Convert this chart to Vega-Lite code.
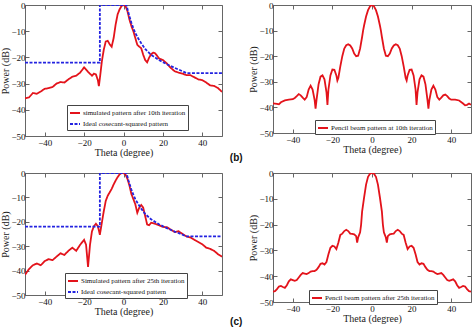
{
  "$schema": "https://vega.github.io/schema/vega-lite/v6.json",
  "padding": {"left": 0, "top": 0, "right": 2, "bottom": 0},
  "background": "white",
  "config": {
    "font": "Liberation Serif",
    "view": {"stroke": "#666", "strokeWidth": 1},
    "axis": {"grid": false, "domain": false, "ticks": true, "tickSize": -4, "tickColor": "#666", "labelPadding": 6, "labelFontSize": 9, "labelColor": "#111", "labelFont": "Liberation Serif", "titleFont": "Liberation Serif", "titleFontSize": 10, "titleFontWeight": "normal", "titleColor": "#222", "titlePadding": 0, "labelFlush": false},
    "axisY": {"labelPadding": 4},
    "legend": {"labelFont": "Liberation Serif", "labelFontSize": 7, "labelColor": "#111", "symbolType": "stroke", "symbolSize": 100, "symbolStrokeWidth": 2, "rowPadding": 1, "padding": 2, "fillColor": "white", "strokeColor": "#444", "labelOffset": 2, "labelLimit": 300}
  },
  "datasets": {
    "p1": [
      {"x": -50, "y": -35.6, "s": "simulated pattern after 10th iteration"},
      {"x": -48, "y": -35.3, "s": "simulated pattern after 10th iteration"},
      {"x": -46, "y": -33.6, "s": "simulated pattern after 10th iteration"},
      {"x": -44, "y": -33.9, "s": "simulated pattern after 10th iteration"},
      {"x": -42, "y": -33, "s": "simulated pattern after 10th iteration"},
      {"x": -40, "y": -32, "s": "simulated pattern after 10th iteration"},
      {"x": -38, "y": -31.7, "s": "simulated pattern after 10th iteration"},
      {"x": -36, "y": -31.3, "s": "simulated pattern after 10th iteration"},
      {"x": -34, "y": -30, "s": "simulated pattern after 10th iteration"},
      {"x": -32, "y": -29.4, "s": "simulated pattern after 10th iteration"},
      {"x": -30, "y": -29.6, "s": "simulated pattern after 10th iteration"},
      {"x": -28, "y": -28.4, "s": "simulated pattern after 10th iteration"},
      {"x": -26, "y": -27.4, "s": "simulated pattern after 10th iteration"},
      {"x": -24, "y": -27, "s": "simulated pattern after 10th iteration"},
      {"x": -22, "y": -25.8, "s": "simulated pattern after 10th iteration"},
      {"x": -20, "y": -23.8, "s": "simulated pattern after 10th iteration"},
      {"x": -18, "y": -25.5, "s": "simulated pattern after 10th iteration"},
      {"x": -16, "y": -27, "s": "simulated pattern after 10th iteration"},
      {"x": -15, "y": -26.2, "s": "simulated pattern after 10th iteration"},
      {"x": -14, "y": -26.5, "s": "simulated pattern after 10th iteration"},
      {"x": -13, "y": -28.7, "s": "simulated pattern after 10th iteration"},
      {"x": -12.5, "y": -31, "s": "simulated pattern after 10th iteration"},
      {"x": -12, "y": -28, "s": "simulated pattern after 10th iteration"},
      {"x": -11, "y": -21.6, "s": "simulated pattern after 10th iteration"},
      {"x": -10, "y": -17, "s": "simulated pattern after 10th iteration"},
      {"x": -9, "y": -13.9, "s": "simulated pattern after 10th iteration"},
      {"x": -8, "y": -13.7, "s": "simulated pattern after 10th iteration"},
      {"x": -7, "y": -15, "s": "simulated pattern after 10th iteration"},
      {"x": -6, "y": -15.9, "s": "simulated pattern after 10th iteration"},
      {"x": -5, "y": -12.6, "s": "simulated pattern after 10th iteration"},
      {"x": -4, "y": -7.5, "s": "simulated pattern after 10th iteration"},
      {"x": -3, "y": -3.6, "s": "simulated pattern after 10th iteration"},
      {"x": -2, "y": -1.7, "s": "simulated pattern after 10th iteration"},
      {"x": -1, "y": -0.4, "s": "simulated pattern after 10th iteration"},
      {"x": 0, "y": 0, "s": "simulated pattern after 10th iteration"},
      {"x": 1, "y": -0.4, "s": "simulated pattern after 10th iteration"},
      {"x": 2, "y": -2.3, "s": "simulated pattern after 10th iteration"},
      {"x": 3, "y": -5.5, "s": "simulated pattern after 10th iteration"},
      {"x": 4, "y": -8, "s": "simulated pattern after 10th iteration"},
      {"x": 5, "y": -10, "s": "simulated pattern after 10th iteration"},
      {"x": 6, "y": -12.6, "s": "simulated pattern after 10th iteration"},
      {"x": 7, "y": -15.2, "s": "simulated pattern after 10th iteration"},
      {"x": 8, "y": -15.9, "s": "simulated pattern after 10th iteration"},
      {"x": 9, "y": -16.5, "s": "simulated pattern after 10th iteration"},
      {"x": 10, "y": -19, "s": "simulated pattern after 10th iteration"},
      {"x": 11, "y": -21, "s": "simulated pattern after 10th iteration"},
      {"x": 12, "y": -21.9, "s": "simulated pattern after 10th iteration"},
      {"x": 13, "y": -20.1, "s": "simulated pattern after 10th iteration"},
      {"x": 14, "y": -18.8, "s": "simulated pattern after 10th iteration"},
      {"x": 15, "y": -18.2, "s": "simulated pattern after 10th iteration"},
      {"x": 16, "y": -18.4, "s": "simulated pattern after 10th iteration"},
      {"x": 17, "y": -19.3, "s": "simulated pattern after 10th iteration"},
      {"x": 18, "y": -20.4, "s": "simulated pattern after 10th iteration"},
      {"x": 20, "y": -21, "s": "simulated pattern after 10th iteration"},
      {"x": 22, "y": -22.3, "s": "simulated pattern after 10th iteration"},
      {"x": 24, "y": -24, "s": "simulated pattern after 10th iteration"},
      {"x": 26, "y": -25.3, "s": "simulated pattern after 10th iteration"},
      {"x": 28, "y": -25.8, "s": "simulated pattern after 10th iteration"},
      {"x": 30, "y": -26.2, "s": "simulated pattern after 10th iteration"},
      {"x": 32, "y": -26.8, "s": "simulated pattern after 10th iteration"},
      {"x": 34, "y": -26.8, "s": "simulated pattern after 10th iteration"},
      {"x": 36, "y": -27.6, "s": "simulated pattern after 10th iteration"},
      {"x": 38, "y": -28.4, "s": "simulated pattern after 10th iteration"},
      {"x": 40, "y": -28.7, "s": "simulated pattern after 10th iteration"},
      {"x": 42, "y": -29.6, "s": "simulated pattern after 10th iteration"},
      {"x": 44, "y": -30.7, "s": "simulated pattern after 10th iteration"},
      {"x": 46, "y": -30.9, "s": "simulated pattern after 10th iteration"},
      {"x": 48, "y": -31.7, "s": "simulated pattern after 10th iteration"},
      {"x": 50, "y": -33.2, "s": "simulated pattern after 10th iteration"},
      {"x": -50, "y": -22, "s": "Ideal cosecant-squared pattern"},
      {"x": -12, "y": -22, "s": "Ideal cosecant-squared pattern"},
      {"x": -12, "y": 0, "s": "Ideal cosecant-squared pattern"},
      {"x": 1.5, "y": 0, "s": "Ideal cosecant-squared pattern"},
      {"x": 2.5, "y": -3, "s": "Ideal cosecant-squared pattern"},
      {"x": 4, "y": -6.8, "s": "Ideal cosecant-squared pattern"},
      {"x": 5, "y": -8.9, "s": "Ideal cosecant-squared pattern"},
      {"x": 6, "y": -10.7, "s": "Ideal cosecant-squared pattern"},
      {"x": 7.5, "y": -12.8, "s": "Ideal cosecant-squared pattern"},
      {"x": 9, "y": -14.6, "s": "Ideal cosecant-squared pattern"},
      {"x": 11, "y": -16.8, "s": "Ideal cosecant-squared pattern"},
      {"x": 14, "y": -19, "s": "Ideal cosecant-squared pattern"},
      {"x": 18, "y": -21, "s": "Ideal cosecant-squared pattern"},
      {"x": 22, "y": -22.6, "s": "Ideal cosecant-squared pattern"},
      {"x": 26, "y": -24, "s": "Ideal cosecant-squared pattern"},
      {"x": 30, "y": -25.3, "s": "Ideal cosecant-squared pattern"},
      {"x": 32, "y": -26, "s": "Ideal cosecant-squared pattern"},
      {"x": 50, "y": -26, "s": "Ideal cosecant-squared pattern"}
    ],
    "p2": [
      {"x": -50, "y": -38.4}, {"x": -49, "y": -38.5}, {"x": -48, "y": -38.6}, {"x": -47, "y": -38.8}, {"x": -46, "y": -38}, {"x": -44, "y": -37.3}, {"x": -42, "y": -37}, {"x": -40, "y": -36.8}, {"x": -39, "y": -36.3}, {"x": -38, "y": -35.6}, {"x": -37, "y": -34.8}, {"x": -36, "y": -35.3}, {"x": -35, "y": -36.2}, {"x": -34, "y": -37}, {"x": -33, "y": -36}, {"x": -32, "y": -33}, {"x": -31, "y": -31.5}, {"x": -30, "y": -33}, {"x": -29, "y": -37}, {"x": -28.5, "y": -40.5}, {"x": -28, "y": -37}, {"x": -27, "y": -31}, {"x": -26, "y": -28}, {"x": -25, "y": -27.5}, {"x": -24, "y": -29}, {"x": -23, "y": -34}, {"x": -22.5, "y": -39}, {"x": -22, "y": -33}, {"x": -21, "y": -27.5}, {"x": -20, "y": -25.2}, {"x": -19, "y": -25.3}, {"x": -18, "y": -27.5}, {"x": -17.5, "y": -29.5}, {"x": -17, "y": -28.5}, {"x": -16, "y": -24}, {"x": -15, "y": -20}, {"x": -14, "y": -17}, {"x": -13, "y": -15.7}, {"x": -12, "y": -15.3}, {"x": -11, "y": -15.8}, {"x": -10, "y": -17}, {"x": -9, "y": -19}, {"x": -8, "y": -20}, {"x": -7, "y": -19.8}, {"x": -6, "y": -17}, {"x": -5, "y": -12.5}, {"x": -4.5, "y": -10}, {"x": -4, "y": -8}, {"x": -3, "y": -4.5}, {"x": -2, "y": -2}, {"x": -1, "y": -0.5}, {"x": 0, "y": 0},
      {"x": 1, "y": -0.5}, {"x": 2, "y": -2}, {"x": 3, "y": -4.5}, {"x": 4, "y": -8}, {"x": 4.5, "y": -10}, {"x": 5, "y": -12.5}, {"x": 6, "y": -17}, {"x": 7, "y": -19.8}, {"x": 8, "y": -20}, {"x": 9, "y": -19}, {"x": 10, "y": -17}, {"x": 11, "y": -15.8}, {"x": 12, "y": -15.3}, {"x": 13, "y": -15.7}, {"x": 14, "y": -17}, {"x": 15, "y": -20}, {"x": 16, "y": -24}, {"x": 17, "y": -28.5}, {"x": 17.5, "y": -29.5}, {"x": 18, "y": -27.5}, {"x": 19, "y": -25.3}, {"x": 20, "y": -25.2}, {"x": 21, "y": -27.5}, {"x": 22, "y": -33}, {"x": 22.5, "y": -39}, {"x": 23, "y": -34}, {"x": 24, "y": -29}, {"x": 25, "y": -27.5}, {"x": 26, "y": -28}, {"x": 27, "y": -31}, {"x": 28, "y": -37}, {"x": 28.5, "y": -40.5}, {"x": 29, "y": -37}, {"x": 30, "y": -33}, {"x": 31, "y": -31.5}, {"x": 32, "y": -33}, {"x": 33, "y": -36}, {"x": 34, "y": -37}, {"x": 35, "y": -36.2}, {"x": 36, "y": -35.3}, {"x": 37, "y": -35}, {"x": 38, "y": -35.6}, {"x": 39, "y": -36.5}, {"x": 40, "y": -37}, {"x": 42, "y": -37}, {"x": 44, "y": -37.3}, {"x": 46, "y": -38.5}, {"x": 47, "y": -39.2}, {"x": 48, "y": -39}, {"x": 49, "y": -38.5}, {"x": 50, "y": -39}
    ],
    "p3": [
      {"x": -50, "y": -41.7, "s": "Simulated pattern after 25th iteration"},
      {"x": -48, "y": -39.4, "s": "Simulated pattern after 25th iteration"},
      {"x": -46, "y": -37.8, "s": "Simulated pattern after 25th iteration"},
      {"x": -44, "y": -37.1, "s": "Simulated pattern after 25th iteration"},
      {"x": -42, "y": -37.8, "s": "Simulated pattern after 25th iteration"},
      {"x": -40, "y": -36.1, "s": "Simulated pattern after 25th iteration"},
      {"x": -38, "y": -35.3, "s": "Simulated pattern after 25th iteration"},
      {"x": -36, "y": -35.7, "s": "Simulated pattern after 25th iteration"},
      {"x": -34, "y": -34.3, "s": "Simulated pattern after 25th iteration"},
      {"x": -32, "y": -32.9, "s": "Simulated pattern after 25th iteration"},
      {"x": -30, "y": -33.6, "s": "Simulated pattern after 25th iteration"},
      {"x": -28, "y": -31.9, "s": "Simulated pattern after 25th iteration"},
      {"x": -26, "y": -30.6, "s": "Simulated pattern after 25th iteration"},
      {"x": -24, "y": -31.9, "s": "Simulated pattern after 25th iteration"},
      {"x": -22, "y": -29.4, "s": "Simulated pattern after 25th iteration"},
      {"x": -20, "y": -27.4, "s": "Simulated pattern after 25th iteration"},
      {"x": -19, "y": -29.4, "s": "Simulated pattern after 25th iteration"},
      {"x": -18, "y": -38.5, "s": "Simulated pattern after 25th iteration"},
      {"x": -17, "y": -29.4, "s": "Simulated pattern after 25th iteration"},
      {"x": -16, "y": -23.9, "s": "Simulated pattern after 25th iteration"},
      {"x": -15, "y": -21.8, "s": "Simulated pattern after 25th iteration"},
      {"x": -14, "y": -20.8, "s": "Simulated pattern after 25th iteration"},
      {"x": -13, "y": -21.8, "s": "Simulated pattern after 25th iteration"},
      {"x": -12, "y": -25.3, "s": "Simulated pattern after 25th iteration"},
      {"x": -11, "y": -20.4, "s": "Simulated pattern after 25th iteration"},
      {"x": -10, "y": -15.6, "s": "Simulated pattern after 25th iteration"},
      {"x": -9, "y": -11.4, "s": "Simulated pattern after 25th iteration"},
      {"x": -8, "y": -9.3, "s": "Simulated pattern after 25th iteration"},
      {"x": -7, "y": -7.9, "s": "Simulated pattern after 25th iteration"},
      {"x": -6, "y": -6.5, "s": "Simulated pattern after 25th iteration"},
      {"x": -5, "y": -4.7, "s": "Simulated pattern after 25th iteration"},
      {"x": -4, "y": -3.1, "s": "Simulated pattern after 25th iteration"},
      {"x": -3, "y": -1.7, "s": "Simulated pattern after 25th iteration"},
      {"x": -2, "y": -0.6, "s": "Simulated pattern after 25th iteration"},
      {"x": -1, "y": 0, "s": "Simulated pattern after 25th iteration"},
      {"x": 0, "y": 0, "s": "Simulated pattern after 25th iteration"},
      {"x": 1, "y": -0.6, "s": "Simulated pattern after 25th iteration"},
      {"x": 2, "y": -2.4, "s": "Simulated pattern after 25th iteration"},
      {"x": 3, "y": -5.1, "s": "Simulated pattern after 25th iteration"},
      {"x": 4, "y": -8.6, "s": "Simulated pattern after 25th iteration"},
      {"x": 5, "y": -10.7, "s": "Simulated pattern after 25th iteration"},
      {"x": 6, "y": -12.8, "s": "Simulated pattern after 25th iteration"},
      {"x": 7, "y": -16.3, "s": "Simulated pattern after 25th iteration"},
      {"x": 8, "y": -14.2, "s": "Simulated pattern after 25th iteration"},
      {"x": 9, "y": -13.1, "s": "Simulated pattern after 25th iteration"},
      {"x": 10, "y": -14.2, "s": "Simulated pattern after 25th iteration"},
      {"x": 11, "y": -17.6, "s": "Simulated pattern after 25th iteration"},
      {"x": 12, "y": -21.1, "s": "Simulated pattern after 25th iteration"},
      {"x": 13, "y": -21.4, "s": "Simulated pattern after 25th iteration"},
      {"x": 14, "y": -20.4, "s": "Simulated pattern after 25th iteration"},
      {"x": 16, "y": -20.8, "s": "Simulated pattern after 25th iteration"},
      {"x": 18, "y": -21.4, "s": "Simulated pattern after 25th iteration"},
      {"x": 20, "y": -22.1, "s": "Simulated pattern after 25th iteration"},
      {"x": 22, "y": -22.2, "s": "Simulated pattern after 25th iteration"},
      {"x": 24, "y": -23.2, "s": "Simulated pattern after 25th iteration"},
      {"x": 26, "y": -24.2, "s": "Simulated pattern after 25th iteration"},
      {"x": 28, "y": -23.9, "s": "Simulated pattern after 25th iteration"},
      {"x": 30, "y": -25, "s": "Simulated pattern after 25th iteration"},
      {"x": 32, "y": -26, "s": "Simulated pattern after 25th iteration"},
      {"x": 34, "y": -26.4, "s": "Simulated pattern after 25th iteration"},
      {"x": 36, "y": -27.4, "s": "Simulated pattern after 25th iteration"},
      {"x": 38, "y": -28.3, "s": "Simulated pattern after 25th iteration"},
      {"x": 40, "y": -29.2, "s": "Simulated pattern after 25th iteration"},
      {"x": 42, "y": -30.6, "s": "Simulated pattern after 25th iteration"},
      {"x": 44, "y": -31.1, "s": "Simulated pattern after 25th iteration"},
      {"x": 46, "y": -31.9, "s": "Simulated pattern after 25th iteration"},
      {"x": 48, "y": -33.3, "s": "Simulated pattern after 25th iteration"},
      {"x": 50, "y": -34.3, "s": "Simulated pattern after 25th iteration"},
      {"x": -50, "y": -22, "s": "Ideal cosecant-squared pattern"},
      {"x": -12, "y": -22, "s": "Ideal cosecant-squared pattern"},
      {"x": -12, "y": 0, "s": "Ideal cosecant-squared pattern"},
      {"x": 1.5, "y": 0, "s": "Ideal cosecant-squared pattern"},
      {"x": 2.5, "y": -3, "s": "Ideal cosecant-squared pattern"},
      {"x": 4, "y": -6.8, "s": "Ideal cosecant-squared pattern"},
      {"x": 5, "y": -8.9, "s": "Ideal cosecant-squared pattern"},
      {"x": 6, "y": -10.7, "s": "Ideal cosecant-squared pattern"},
      {"x": 7.5, "y": -12.8, "s": "Ideal cosecant-squared pattern"},
      {"x": 9, "y": -14.6, "s": "Ideal cosecant-squared pattern"},
      {"x": 11, "y": -16.8, "s": "Ideal cosecant-squared pattern"},
      {"x": 14, "y": -19, "s": "Ideal cosecant-squared pattern"},
      {"x": 18, "y": -21, "s": "Ideal cosecant-squared pattern"},
      {"x": 22, "y": -22.6, "s": "Ideal cosecant-squared pattern"},
      {"x": 26, "y": -24, "s": "Ideal cosecant-squared pattern"},
      {"x": 30, "y": -25.3, "s": "Ideal cosecant-squared pattern"},
      {"x": 32, "y": -26, "s": "Ideal cosecant-squared pattern"},
      {"x": 50, "y": -26, "s": "Ideal cosecant-squared pattern"}
    ],
    "p4": [
      {"x": -50, "y": -46}, {"x": -49, "y": -45.8}, {"x": -48, "y": -45}, {"x": -47, "y": -44}, {"x": -46, "y": -43.8}, {"x": -45, "y": -44.2}, {"x": -44, "y": -44.5}, {"x": -43, "y": -43.5}, {"x": -42, "y": -42}, {"x": -41, "y": -41.2}, {"x": -40, "y": -41.5}, {"x": -39, "y": -41.8}, {"x": -38, "y": -41.5}, {"x": -37, "y": -40.5}, {"x": -36, "y": -39.5}, {"x": -35, "y": -38.8}, {"x": -34, "y": -39}, {"x": -33, "y": -39.2}, {"x": -32, "y": -38.8}, {"x": -31, "y": -38.2}, {"x": -30, "y": -38}, {"x": -29, "y": -38}, {"x": -28, "y": -37.5}, {"x": -27, "y": -36.5}, {"x": -26, "y": -35.2}, {"x": -25, "y": -35}, {"x": -24, "y": -35.5}, {"x": -23, "y": -34.5}, {"x": -22, "y": -31.5}, {"x": -21, "y": -29}, {"x": -20, "y": -28.2}, {"x": -19, "y": -28.5}, {"x": -18, "y": -29.5}, {"x": -17, "y": -27}, {"x": -16, "y": -24}, {"x": -15, "y": -23.5}, {"x": -14, "y": -22.5}, {"x": -13, "y": -22}, {"x": -12, "y": -22.5}, {"x": -11, "y": -23.5}, {"x": -10, "y": -23.6}, {"x": -9, "y": -23.8}, {"x": -8, "y": -24.5}, {"x": -7.5, "y": -27}, {"x": -7, "y": -25}, {"x": -6.5, "y": -24}, {"x": -6, "y": -23}, {"x": -5.5, "y": -20}, {"x": -5, "y": -15}, {"x": -4, "y": -9.5}, {"x": -3, "y": -4.5}, {"x": -2, "y": -1.5}, {"x": -1, "y": -0.3}, {"x": 0, "y": 0},
      {"x": 1, "y": -0.3}, {"x": 2, "y": -1.5}, {"x": 3, "y": -4.5}, {"x": 4, "y": -9.5}, {"x": 5, "y": -15}, {"x": 5.5, "y": -20}, {"x": 6, "y": -23}, {"x": 6.5, "y": -24}, {"x": 7, "y": -25}, {"x": 7.5, "y": -27}, {"x": 8, "y": -24.5}, {"x": 9, "y": -23.8}, {"x": 10, "y": -23.6}, {"x": 11, "y": -23.5}, {"x": 12, "y": -22.5}, {"x": 13, "y": -22}, {"x": 14, "y": -22.5}, {"x": 15, "y": -23.5}, {"x": 16, "y": -24}, {"x": 17, "y": -27}, {"x": 18, "y": -29.5}, {"x": 19, "y": -28.5}, {"x": 20, "y": -28.2}, {"x": 21, "y": -29}, {"x": 22, "y": -31.5}, {"x": 23, "y": -34.5}, {"x": 24, "y": -35.5}, {"x": 25, "y": -35}, {"x": 26, "y": -35.2}, {"x": 27, "y": -36.5}, {"x": 28, "y": -37.5}, {"x": 29, "y": -38}, {"x": 30, "y": -38}, {"x": 31, "y": -38.2}, {"x": 32, "y": -38.8}, {"x": 33, "y": -39.2}, {"x": 34, "y": -39}, {"x": 35, "y": -38.8}, {"x": 36, "y": -39.5}, {"x": 37, "y": -40.5}, {"x": 38, "y": -41.5}, {"x": 39, "y": -41.8}, {"x": 40, "y": -41.5}, {"x": 41, "y": -41.2}, {"x": 42, "y": -42}, {"x": 43, "y": -43.5}, {"x": 44, "y": -44.5}, {"x": 45, "y": -44.2}, {"x": 46, "y": -43.8}, {"x": 47, "y": -44}, {"x": 48, "y": -45}, {"x": 49, "y": -45.8}, {"x": 50, "y": -46}
    ]
  },
  "vconcat": [
    {
      "title": {"text": "(b)", "orient": "bottom", "anchor": "middle", "font": "Liberation Sans", "fontSize": 10, "fontWeight": "bold", "color": "#111", "offset": -5},
      "spacing": 25,
      "hconcat": [
        {
          "width": 197, "height": 131,
          "data": {"name": "p1"},
          "layer": [
            {
              "mark": {"type": "line", "strokeWidth": 1.8, "clip": true},
              "encoding": {
                "x": {"field": "x", "type": "quantitative", "scale": {"domain": [-50, 50], "nice": false}, "axis": {"values": [-40, -20, 0, 20, 40], "title": "Theta (degree)"}},
                "y": {"field": "y", "type": "quantitative", "scale": {"domain": [-50, 0], "nice": false}, "axis": {"values": [-50, -40, -30, -20, -10, 0], "title": "Power (dB)"}},
                "color": {"field": "s", "type": "nominal", "scale": {"domain": ["simulated pattern after 10th iteration", "Ideal cosecant-squared pattern"], "range": ["#e3131b", "#2323e0"]}, "legend": {"title": null, "orient": "none", "legendX": 42, "legendY": 100}},
                "strokeDash": {"field": "s", "type": "nominal", "scale": {"domain": ["simulated pattern after 10th iteration", "Ideal cosecant-squared pattern"], "range": [[1, 0], [3, 1.5]]}, "legend": {"title": null, "orient": "none", "legendX": 42, "legendY": 100}},
                "order": {"value": null}
              }
            },
            {
              "mark": {"type": "line", "strokeOpacity": 0},
              "encoding": {
                "x": {"field": "x", "type": "quantitative", "scale": {"domain": [-50, 50], "nice": false}, "axis": {"orient": "top", "values": [-40, -20, 0, 20, 40], "labels": false, "title": null}},
                "y": {"field": "y", "type": "quantitative", "scale": {"domain": [-50, 0], "nice": false}, "axis": {"orient": "right", "values": [-50, -40, -30, -20, -10, 0], "labels": false, "title": null}}
              }
            }
          ],
          "resolve": {"axis": {"x": "independent", "y": "independent"}}
        },
        {
          "width": 198, "height": 128,
          "data": {"name": "p2"},
          "layer": [
            {
              "mark": {"type": "line", "strokeWidth": 1.8, "clip": true},
              "encoding": {
                "x": {"field": "x", "type": "quantitative", "scale": {"domain": [-50, 50], "nice": false}, "axis": {"values": [-40, -20, 0, 20, 40], "title": "Theta (degree)"}},
                "y": {"field": "y", "type": "quantitative", "scale": {"domain": [-50, 0], "nice": false}, "axis": {"values": [-50, -40, -30, -20, -10, 0], "title": "Power (dB)"}},
                "color": {"datum": "Pencil beam pattern at 10th iteration", "type": "nominal", "scale": {"domain": ["Pencil beam pattern at 10th iteration"], "range": ["#e3131b"]}, "legend": {"title": null, "orient": "none", "legendX": 42, "legendY": 115}}
              }
            },
            {
              "mark": {"type": "line", "strokeOpacity": 0},
              "encoding": {
                "x": {"field": "x", "type": "quantitative", "scale": {"domain": [-50, 50], "nice": false}, "axis": {"orient": "top", "values": [-40, -20, 0, 20, 40], "labels": false, "title": null}},
                "y": {"field": "y", "type": "quantitative", "scale": {"domain": [-50, 0], "nice": false}, "axis": {"orient": "right", "values": [-50, -40, -30, -20, -10, 0], "labels": false, "title": null}}
              }
            }
          ],
          "resolve": {"axis": {"x": "independent", "y": "independent"}}
        }
      ],
      "resolve": {"scale": {"color": "independent", "strokeDash": "independent"}, "legend": {"color": "independent", "strokeDash": "independent"}}
    },
    {
      "title": {"text": "(c)", "orient": "bottom", "anchor": "middle", "font": "Liberation Sans", "fontSize": 10, "fontWeight": "bold", "color": "#111", "offset": -7},
      "spacing": 25,
      "hconcat": [
        {
          "width": 197, "height": 122,
          "data": {"name": "p3"},
          "layer": [
            {
              "mark": {"type": "line", "strokeWidth": 1.8, "clip": true},
              "encoding": {
                "x": {"field": "x", "type": "quantitative", "scale": {"domain": [-50, 50], "nice": false}, "axis": {"values": [-40, -20, 0, 20, 40], "title": "Theta (degree)"}},
                "y": {"field": "y", "type": "quantitative", "scale": {"domain": [-50, 0], "nice": false}, "axis": {"values": [-50, -40, -30, -20, -10, 0], "title": "Power (dB)"}},
                "color": {"field": "s", "type": "nominal", "scale": {"domain": ["Simulated pattern after 25th iteration", "Ideal cosecant-squared pattern"], "range": ["#e3131b", "#2323e0"]}, "legend": {"title": null, "orient": "none", "legendX": 40, "legendY": 100}},
                "strokeDash": {"field": "s", "type": "nominal", "scale": {"domain": ["Simulated pattern after 25th iteration", "Ideal cosecant-squared pattern"], "range": [[1, 0], [3, 1.5]]}, "legend": {"title": null, "orient": "none", "legendX": 40, "legendY": 100}},
                "order": {"value": null}
              }
            },
            {
              "mark": {"type": "line", "strokeOpacity": 0},
              "encoding": {
                "x": {"field": "x", "type": "quantitative", "scale": {"domain": [-50, 50], "nice": false}, "axis": {"orient": "top", "values": [-40, -20, 0, 20, 40], "labels": false, "title": null}},
                "y": {"field": "y", "type": "quantitative", "scale": {"domain": [-50, 0], "nice": false}, "axis": {"orient": "right", "values": [-50, -40, -30, -20, -10, 0], "labels": false, "title": null}}
              }
            }
          ],
          "resolve": {"axis": {"x": "independent", "y": "independent"}}
        },
        {
          "width": 198, "height": 129,
          "data": {"name": "p4"},
          "layer": [
            {
              "mark": {"type": "line", "strokeWidth": 1.8, "clip": true},
              "encoding": {
                "x": {"field": "x", "type": "quantitative", "scale": {"domain": [-50, 50], "nice": false}, "axis": {"values": [-40, -20, 0, 20, 40], "title": "Theta (degree)"}},
                "y": {"field": "y", "type": "quantitative", "scale": {"domain": [-50, 0], "nice": false}, "axis": {"values": [-50, -40, -30, -20, -10, 0], "title": "Power (dB)"}},
                "color": {"datum": "Pencil beam pattern after 25th iteration", "type": "nominal", "scale": {"domain": ["Pencil beam pattern after 25th iteration"], "range": ["#e3131b"]}, "legend": {"title": null, "orient": "none", "legendX": 36, "legendY": 117}}
              }
            },
            {
              "mark": {"type": "line", "strokeOpacity": 0},
              "encoding": {
                "x": {"field": "x", "type": "quantitative", "scale": {"domain": [-50, 50], "nice": false}, "axis": {"orient": "top", "values": [-40, -20, 0, 20, 40], "labels": false, "title": null}},
                "y": {"field": "y", "type": "quantitative", "scale": {"domain": [-50, 0], "nice": false}, "axis": {"orient": "right", "values": [-50, -40, -30, -20, -10, 0], "labels": false, "title": null}}
              }
            }
          ],
          "resolve": {"axis": {"x": "independent", "y": "independent"}}
        }
      ],
      "resolve": {"scale": {"color": "independent", "strokeDash": "independent"}, "legend": {"color": "independent", "strokeDash": "independent"}}
    }
  ],
  "spacing": 5,
  "resolve": {"scale": {"color": "independent", "strokeDash": "independent"}, "legend": {"color": "independent", "strokeDash": "independent"}}
}
